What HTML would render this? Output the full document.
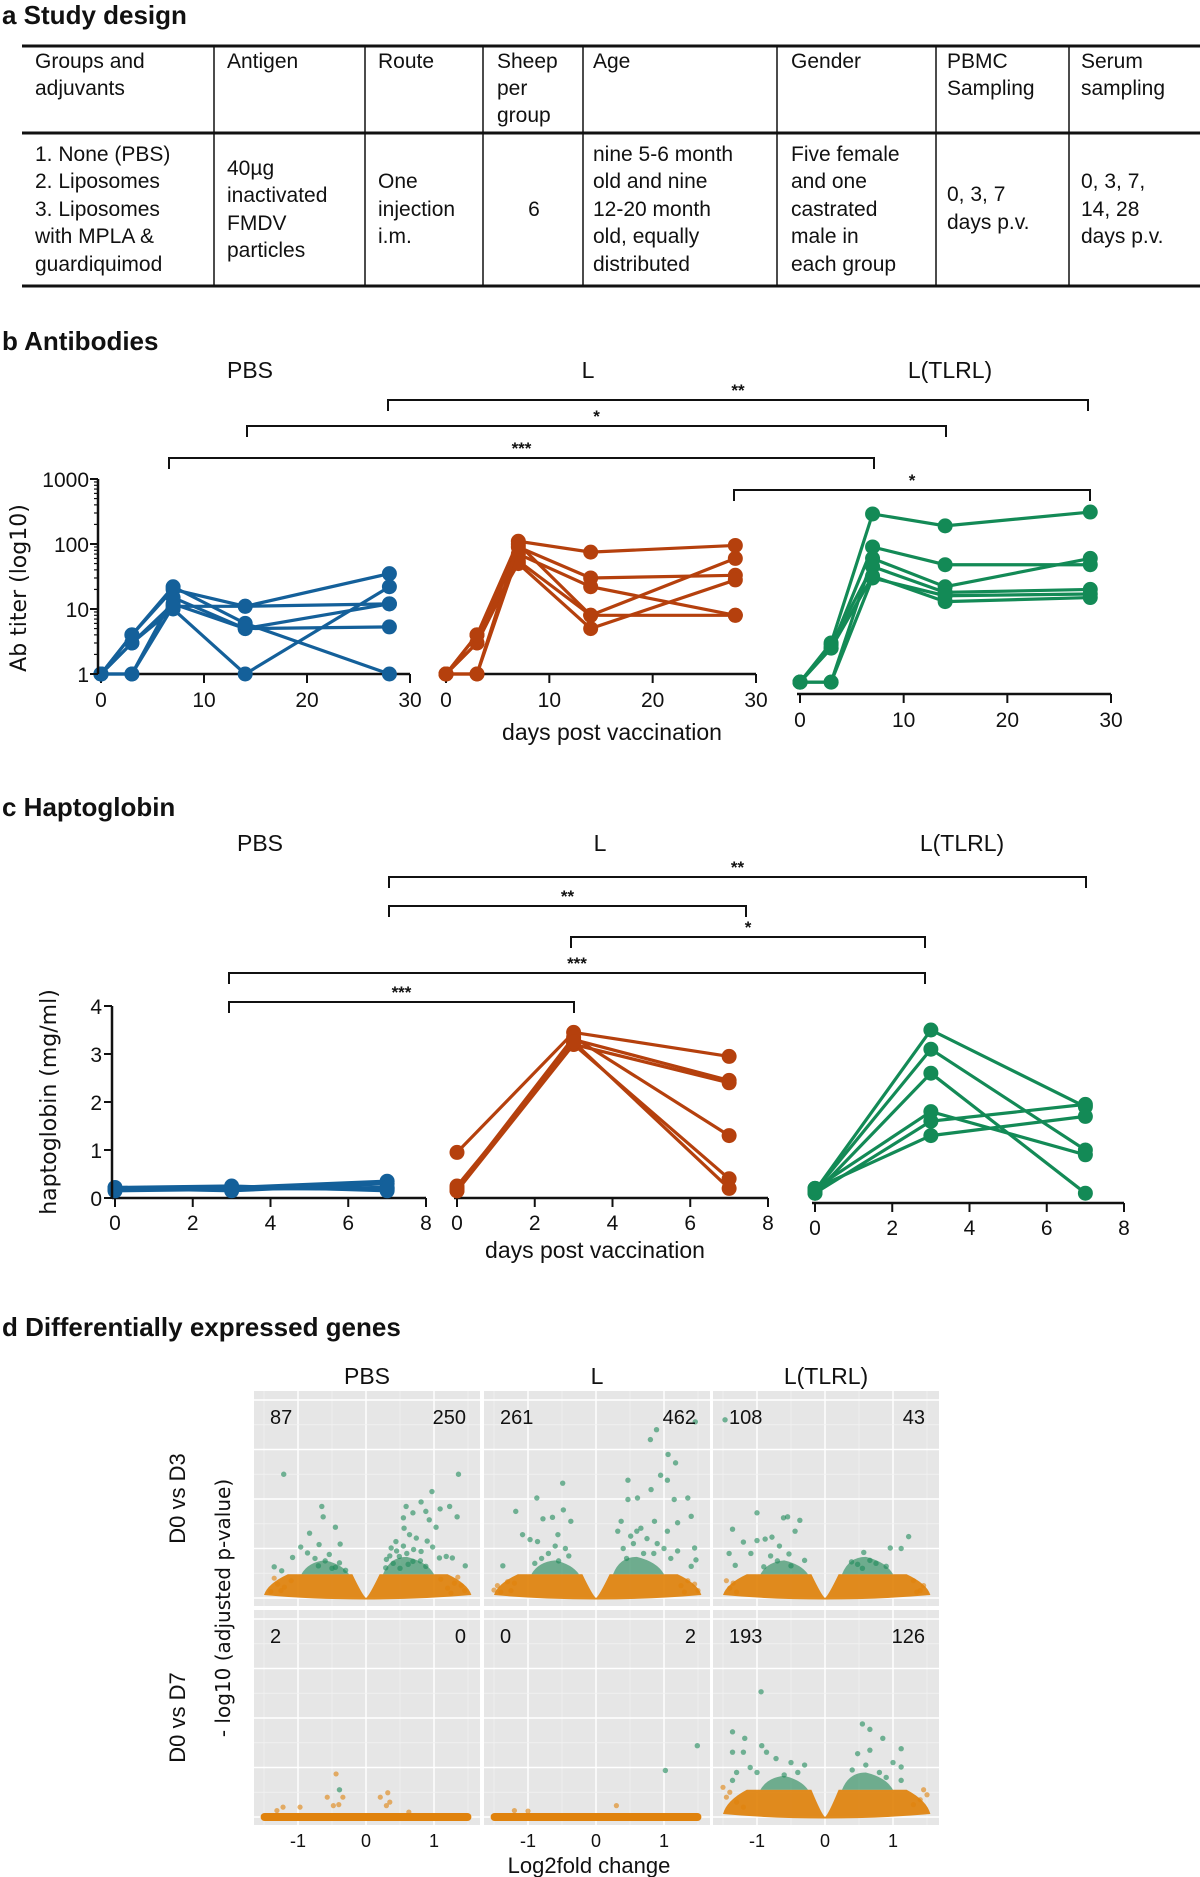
<!DOCTYPE html>
<html><head><meta charset="utf-8">
<style>
html,body{margin:0;padding:0;background:#fff;}
svg{display:block;font-family:"Liberation Sans",Arial,sans-serif;}
</style></head>
<body>
<svg id="fig" width="1200" height="1877" viewBox="0 0 1200 1877" xmlns="http://www.w3.org/2000/svg">
<g font-size="21" fill="#111">
  <text x="2" y="24" font-size="26" font-weight="bold">a Study design</text>
  <g stroke="#111">
    <line x1="22" y1="46" x2="1200" y2="46" stroke-width="3"/>
    <line x1="22" y1="133" x2="1200" y2="133" stroke-width="3"/>
    <line x1="22" y1="286" x2="1200" y2="286" stroke-width="3"/>
    <line x1="214" y1="46" x2="214" y2="286" stroke-width="1.5"/>
    <line x1="365" y1="46" x2="365" y2="286" stroke-width="1.5"/>
    <line x1="483" y1="46" x2="483" y2="286" stroke-width="1.5"/>
    <line x1="583" y1="46" x2="583" y2="286" stroke-width="1.5"/>
    <line x1="777" y1="46" x2="777" y2="286" stroke-width="1.5"/>
    <line x1="936" y1="46" x2="936" y2="286" stroke-width="1.5"/>
    <line x1="1069" y1="46" x2="1069" y2="286" stroke-width="1.5"/>
  </g>
  <g stroke="none">
    <text x="35" y="68">Groups and</text><text x="35" y="95">adjuvants</text>
    <text x="227" y="68">Antigen</text>
    <text x="378" y="68">Route</text>
    <text x="497" y="68">Sheep</text><text x="497" y="95">per</text><text x="497" y="122">group</text>
    <text x="593" y="68">Age</text>
    <text x="791" y="68">Gender</text>
    <text x="947" y="68">PBMC</text><text x="947" y="95">Sampling</text>
    <text x="1081" y="68">Serum</text><text x="1081" y="95">sampling</text>
  </g>
  <g stroke="none">
    <text x="35" y="161">1. None (PBS)</text><text x="35" y="188">2. Liposomes</text><text x="35" y="216">3. Liposomes</text><text x="35" y="243">with MPLA &amp;</text><text x="35" y="271">guardiquimod</text>
    <text x="227" y="175">40µg</text><text x="227" y="202">inactivated</text><text x="227" y="230">FMDV</text><text x="227" y="257">particles</text>
    <text x="378" y="188">One</text><text x="378" y="216">injection</text><text x="378" y="243">i.m.</text>
    <text x="534" y="216" text-anchor="middle">6</text>
    <text x="593" y="161">nine 5-6 month</text><text x="593" y="188">old and nine</text><text x="593" y="216">12-20 month</text><text x="593" y="243">old, equally</text><text x="593" y="271">distributed</text>
    <text x="791" y="161">Five female</text><text x="791" y="188">and one</text><text x="791" y="216">castrated</text><text x="791" y="243">male in</text><text x="791" y="271">each group</text>
    <text x="947" y="201">0, 3, 7</text><text x="947" y="229">days p.v.</text>
    <text x="1081" y="188">0, 3, 7,</text><text x="1081" y="216">14, 28</text><text x="1081" y="243">days p.v.</text>
  </g>
</g>
<g id="secB"></g>
<g id="secC"></g>
<g id="secD"></g>
</svg>
<script>
// ---------- Antibody data (days 0,3,7,14,28) ----------
const abDays = [0, 3, 7, 14, 28];
const abPBS = [[1,4,20,11,35],[1,3,12,5,12],[1,1,15,5,5.3],[1,3,10,1,22],[1,4,22,6,1],[1,1,11,11,12]];
const abL = [[1,4,110,75,95],[1,3,90,30,33],[1,1,70,22,8],[1,3,55,8,60],[1,4,50,5,28],[1,1,100,8,8]];
const abTLRL = [[0.75,3,290,190,310],[0.75,2.5,90,48,48],[0.75,0.75,60,22,60],[0.75,2.8,45,18,20],[0.75,2.5,32,13,15],[0.75,0.75,30,16,17]];
const abXTicks = [0, 10, 20, 30];
const abYTicks = [1, 10, 100, 1000];
const abYLabels = ["1", "10", "100", "1000"];
// ---------- Haptoglobin data (days 0,3,7) ----------
const hpDays = [0, 3, 7];
const hpPBS = [[0.2,0.22,0.35],[0.18,0.2,0.2],[0.22,0.25,0.15],[0.2,0.15,0.3],[0.15,0.18,0.22],[0.2,0.2,0.18]];
const hpL = [[0.95,3.45,2.95],[0.2,3.3,2.45],[0.15,3.2,2.4],[0.2,3.35,1.3],[0.25,3.2,0.4],[0.15,3.25,0.2]];
const hpTLRL = [[0.15,3.5,1.9],[0.15,3.1,1.0],[0.1,2.6,0.1],[0.2,1.8,0.9],[0.1,1.6,1.95],[0.2,1.3,1.7]];
const hpXTicks = [0, 2, 4, 6, 8];
const hpYTicks = [0, 1, 2, 3, 4];
// ---------- Volcano data [log2fc, -log10 p] ----------
const vCounts = [["87","250"],["261","462"],["108","43"],["2","0"],["0","2"],["193","126"]];
const vGreen0 = [[-1.21,25],[1.36,25],[0.97,21.5],[-0.65,18.5],[-0.63,16.4],[-0.45,14.3],[-0.83,13.1],[-0.96,10.3],[-1.08,8.2],[-1.35,6.3],[-1.24,5.5],[-0.69,10.8],[-0.38,10.9],[-0.86,9.1],[-0.54,8.8],[-0.39,7.1],[0.81,19.4],[0.59,18.5],[0.88,17.5],[1.09,18],[1.23,18.5],[1.34,16.4],[0.55,16.2],[0.69,17.2],[0.93,15.8],[1.03,14.3],[0.56,14.1],[0.64,12.8],[0.44,11.4],[0.74,12.1],[0.98,10.3],[1.18,8.4],[1.46,6.5],[1.27,8.1],[1.08,8.1],[0.37,10.1],[0.81,9.4],[0.29,6.1],[0.69,7.4],[0.49,8.4],[0.88,6.4],[-0.5,6],[-0.3,5.6],[-0.7,6.5],[0.4,7],[0.6,9],[0.5,6],[-0.6,7.5],[-0.45,6.2],[-0.75,8],[0.35,8.5],[0.55,10.5],[0.7,9.8],[0.45,9.5],[0.8,7.5],[0.3,7.8],[0.62,6.8],[0.9,11.5]];
const vGreen1 = [[1.46,35.6],[0.89,34],[0.8,32],[1.06,29],[1.17,27.3],[0.95,24.8],[1.05,23.8],[0.47,23.8],[-0.49,23.2],[-0.87,20.2],[-1.18,17.5],[0.47,19.9],[0.61,20.2],[0.81,21.9],[1.15,19.9],[1.35,20.2],[1.4,16.5],[-0.48,17.8],[-0.64,16.3],[-0.78,16],[-0.37,15.5],[0.37,15.5],[0.66,14.1],[0.86,15.5],[1.2,15.2],[1.05,13.5],[0.51,12.5],[-1.08,12.8],[-0.97,11.8],[-0.86,11.4],[-0.56,12.8],[1.45,10.1],[1.47,7.7],[-1.37,6.5],[1.4,6.4],[0.32,13.5],[0.9,11],[0.7,9],[1.1,8],[-0.7,9],[-0.45,10],[-0.8,8],[-0.6,10.5],[-0.4,8.5],[-0.9,7],[0.4,10],[0.55,11],[0.75,12],[1.0,10],[0.45,8],[0.85,9],[1.2,9.5],[0.6,13.5],[-0.55,7.5]];
const vGreen2 = [[-1.47,36],[-1,17.2],[-1.36,13.9],[-0.61,16.2],[-0.55,16.4],[-0.37,15.7],[-0.88,11.9],[-1,11.6],[-0.78,12.3],[-0.44,13.5],[-1.2,11.3],[-1.41,9],[-1.09,9],[-0.67,10.5],[-0.53,8.9],[1.23,12.4],[0.96,10.1],[1.12,10],[0.57,9.2],[0.39,7.3],[0.66,7.6],[0.9,6.4],[0.48,6.8],[-1.32,6.6],[-0.9,6.3],[-0.3,7.6],[-0.7,7.5],[-0.5,6.5],[-0.8,8.5],[0.55,6],[0.75,7]];
const vGreen3 = [[-0.39,5.5]];
const vGreen4 = [[1.49,14.4],[1.02,9.4]];
const vGreen5 = [[-0.94,25.3],[-1.36,17.2],[-1.18,15.9],[-0.93,14.4],[0.55,18.8],[0.66,17.7],[0.85,15.9],[1.12,13.8],[0.66,13.5],[0.48,12.8],[-1.36,13.1],[-1.2,13.1],[-0.86,13.1],[-0.72,11.8],[-0.3,10.5],[1.12,10.1],[-1.36,7.4],[1.12,7.4],[-1.0,9],[-0.6,8.5],[0.8,9],[1.0,11],[-1.1,10],[-0.5,11],[-0.4,9],[0.4,9.5],[0.6,10.5],[0.9,8],[-1.3,9]];
const vOrange0 = [[-1.4,1.3],[-1.3,2.8],[-1.25,1.5],[1.3,3],[1.4,2.5],[1.45,1.5],[-1.1,3.5],[1.1,3.8],[1.2,2],[-1.35,4],[1.35,4.2],[-1.2,2.2],[1.25,1]];
const vOrange1 = [[-1.5,1.6],[-1.4,1.2],[-1.3,3.3],[1.5,1.5],[1.45,2.8],[1.35,3.5],[1.25,2.5],[-1.2,3],[-1.45,2.5],[1.3,1.2],[-1.25,1.5]];
const vOrange2 = [[-1.45,3.5],[-1.4,2],[1.45,2.5],[1.4,1.5],[1.3,3.5],[-1.3,1.2],[-1.35,3],[1.35,1.2]];
const vOrange3 = [[-0.44,8.7],[-0.57,4],[-0.34,4],[0.32,4.9],[0.21,4],[-1.22,2],[-0.97,2],[-0.48,2.3],[0.3,2.3],[0.63,1],[-1.31,1.3],[-0.4,2.5],[0.35,3]];
const vOrange4 = [[0.3,2.3],[-1.2,1.3],[-1,1.2]];
const vOrange5 = [[-1.5,6],[-1.45,4],[-1.3,3],[1.45,5.5],[1.4,3.5],[1.3,2.5],[-1.2,2],[1.5,4.5],[-1.4,5]];
const vThresh = [4.8, 4.8, 4.8, 0, 0, 5.5];
const vXTicks = [-1, 0, 1];

const NS = "http://www.w3.org/2000/svg";
function el(parent, tag, attrs) {
  const e = document.createElementNS(NS, tag);
  for (const k in attrs) e.setAttribute(k, attrs[k]);
  parent.appendChild(e);
  return e;
}
function txt(parent, x, y, s, size, anchor, extra) {
  const t = el(parent, "text", Object.assign({x: x, y: y, "font-size": size, "text-anchor": anchor || "start", fill: "#111"}, extra || {}));
  t.textContent = s;
  return t;
}
function bracket(parent, x1, x2, y, stars, name) {
  const g = el(parent, "g", {});
  
  
  el(g, "path", {d: `M${x1},${y + 11}V${y}H${x2}V${y + 11}`, fill: "none", stroke: "#111", "stroke-width": 2});
  txt(g, (x1 + x2) / 2, y - 4, stars, 17, "middle", {"font-weight": "bold"});
}

// ================= Section B =================
const B = document.getElementById("secB");
txt(B, 2, 350, "b Antibodies", 26, "start", {"font-weight": "bold"});
const abPanels = [
  {x0: 101, x1: 410, axisY: 674, data: abPBS, col: "#14609a", name: "pbs", label: "PBS", lx: 250},
  {x0: 446, x1: 756, axisY: 674, data: abL, col: "#b5400d", name: "l", label: "L", lx: 588},
  {x0: 800, x1: 1111, axisY: 694, data: abTLRL, col: "#138a56", name: "tlrl", label: "L(TLRL)", lx: 950}
];
function abY(v) { return 674 - Math.log10(v) * 65; }
abPanels.forEach((p, i) => {
  const g = el(B, "g", {});
  
  
  const lt = txt(g, p.lx, 378, p.label, 23, "middle");
  
  
  const sx = d => p.x0 + (d / 30) * (p.x1 - p.x0);
  el(g, "line", {x1: p.x0 - 3, y1: p.axisY, x2: p.x1, y2: p.axisY, stroke: "#111", "stroke-width": 2.5});
  abXTicks.forEach(t => {
    el(g, "line", {x1: sx(t), y1: p.axisY, x2: sx(t), y2: p.axisY + 9, stroke: "#111", "stroke-width": 2});
    txt(g, sx(t), p.axisY + 33, String(t), 21, "middle");
  });
  p.data.forEach((s, k) => {
    const line = el(g, "polyline", {points: s.map((v, j) => sx(abDays[j]) + "," + abY(v)).join(" "), fill: "none", stroke: p.col, "stroke-width": 3.2});
    
    
    s.forEach((v, j) => {
      const c = el(g, "circle", {cx: sx(abDays[j]), cy: abY(v), r: 7.5, fill: p.col});
      
      
    });
  });
  if (i === 0) {
    const ax = p.x0 - 3;
    el(g, "line", {x1: ax, y1: abY(1000), x2: ax, y2: p.axisY, stroke: "#111", "stroke-width": 2.5});
    abYTicks.forEach((t, k) => {
      el(g, "line", {x1: ax - 8, y1: abY(t), x2: ax, y2: abY(t), stroke: "#111", "stroke-width": 2});
      txt(g, ax - 9, abY(t) + 8, abYLabels[k], 21, "end");
      if (t < 1000) for (let m = 2; m < 10; m++) el(g, "line", {x1: ax - 4, y1: abY(t * m), x2: ax, y2: abY(t * m), stroke: "#111", "stroke-width": 1.2});
    });
  }
});
const abYT = txt(B, 26, 588, "Ab titer (log10)", 22, "middle", {transform: "rotate(-90 26 588)", "font-family": "DejaVu Sans, sans-serif"});


const abXT = txt(B, 612, 740, "days post vaccination", 23, "middle");


bracket(B, 388, 1088, 400, "**", "sig-bracket-pbs28-tlrl28");
bracket(B, 247, 946, 426, "*", "sig-bracket-pbs14-tlrl14");
bracket(B, 169, 874, 458, "***", "sig-bracket-pbs7-l28");
bracket(B, 734, 1090, 490, "*", "sig-bracket-l28-tlrl28");

// ================= Section C =================
const C = document.getElementById("secC");
txt(C, 2, 816, "c Haptoglobin", 26, "start", {"font-weight": "bold"});
const hpPanels = [
  {x0: 115, x1: 426, axisY: 1198, data: hpPBS, col: "#14609a", name: "pbs", label: "PBS", lx: 260},
  {x0: 457, x1: 768, axisY: 1198, data: hpL, col: "#b5400d", name: "l", label: "L", lx: 600},
  {x0: 815, x1: 1124, axisY: 1203, data: hpTLRL, col: "#138a56", name: "tlrl", label: "L(TLRL)", lx: 962}
];
function hpY(v) { return 1198 - v * 48; }
hpPanels.forEach((p, i) => {
  const g = el(C, "g", {});
  
  
  const lt = txt(g, p.lx, 851, p.label, 23, "middle");
  
  
  const sx = d => p.x0 + (d / 8) * (p.x1 - p.x0);
  el(g, "line", {x1: p.x0 - 3, y1: p.axisY, x2: p.x1, y2: p.axisY, stroke: "#111", "stroke-width": 2.5});
  hpXTicks.forEach(t => {
    el(g, "line", {x1: sx(t), y1: p.axisY, x2: sx(t), y2: p.axisY + 9, stroke: "#111", "stroke-width": 2});
    txt(g, sx(t), p.axisY + 32, String(t), 21, "middle");
  });
  p.data.forEach(s => {
    const line = el(g, "polyline", {points: s.map((v, j) => sx(hpDays[j]) + "," + hpY(v)).join(" "), fill: "none", stroke: p.col, "stroke-width": 3.2});
    
    
    s.forEach((v, j) => {
      const c = el(g, "circle", {cx: sx(hpDays[j]), cy: hpY(v), r: 7.5, fill: p.col});
      
      
    });
  });
  if (i === 0) {
    const ax = p.x0 - 3;
    el(g, "line", {x1: ax, y1: hpY(4), x2: ax, y2: p.axisY, stroke: "#111", "stroke-width": 2.5});
    hpYTicks.forEach(t => {
      el(g, "line", {x1: ax - 8, y1: hpY(t), x2: ax, y2: hpY(t), stroke: "#111", "stroke-width": 2});
      txt(g, ax - 10, hpY(t) + 8, String(t), 21, "end");
    });
  }
});
const hpYT = txt(C, 56, 1102, "haptoglobin (mg/ml)", 22, "middle", {transform: "rotate(-90 56 1102)", "font-family": "DejaVu Sans, sans-serif"});


const hpXT = txt(C, 595, 1258, "days post vaccination", 23, "middle");


bracket(C, 389, 1086, 877, "**", "sig-bracket-l0-tlrl7");
bracket(C, 389, 746, 906, "**", "sig-bracket-l0-l7");
bracket(C, 571, 925, 937, "*", "sig-bracket-l3-tlrl3");
bracket(C, 229, 925, 973, "***", "sig-bracket-pbs3-tlrl3");
bracket(C, 229, 574, 1002, "***", "sig-bracket-pbs3-l3");

// ================= Section D =================
const D = document.getElementById("secD");
txt(D, 2, 1336, "d Differentially expressed genes", 26, "start", {"font-weight": "bold"});
const colX = [254, 484, 713];
const rowY = [1391, 1610];
const pw = 226, ph = 215;
const greens = [vGreen0, vGreen1, vGreen2, vGreen3, vGreen4, vGreen5];
const oranges = [vOrange0, vOrange1, vOrange2, vOrange3, vOrange4, vOrange5];
["PBS", "L", "L(TLRL)"].forEach((s, i) => {
  const t = txt(D, colX[i] + pw / 2, 1384, s, 23, "middle");
  
  
});
["D0 vs D3", "D0 vs D7"].forEach((s, r) => {
  const cy = rowY[r] + ph / 2;
  const t = txt(D, 185, cy, s, 22, "middle", {transform: `rotate(-90 185 ${cy})`});
  
  
});
for (let r = 0; r < 2; r++) for (let c = 0; c < 3; c++) {
  const idx = r * 3 + c;
  const px = colX[c], py = rowY[r];
  const g = el(D, "g", {});
  
  
  el(g, "rect", {x: px, y: py, width: pw, height: ph, fill: "#e6e6e6"});
  const zx = px + 112, base = py + ph - 8;
  const sx = v => zx + v * 68;
  const sy = v => base - v * 4.95;
  [-1.5, -0.5, 0.5, 1.5].forEach(v => el(g, "line", {x1: sx(v), y1: py, x2: sx(v), y2: py + ph, stroke: "#f2f2f2", "stroke-width": 0.8}));
  vXTicks.forEach(v => el(g, "line", {x1: sx(v), y1: py, x2: sx(v), y2: py + ph, stroke: "#fff", "stroke-width": 1.4}));
  [5, 15, 25, 35].forEach(v => { if (sy(v) > py) el(g, "line", {x1: px, y1: sy(v), x2: px + pw, y2: sy(v), stroke: "#f2f2f2", "stroke-width": 0.8}); });
  [0, 10, 20, 30, 40].forEach(v => { if (sy(v) > py) el(g, "line", {x1: px, y1: sy(v), x2: px + pw, y2: sy(v), stroke: "#fff", "stroke-width": 1.4}); });
  const th = vThresh[idx];
  if (th > 0) {
    const band = el(g, "path", {d: `M${sx(-1.5)},${sy(0.6)} Q${sx(-1.45)},${sy(th * 0.6)} ${sx(-1.15)},${sy(th)} L${sx(-0.2)},${sy(th)} Q${sx(-0.05)},${sy(0.5)} ${sx(0)},${sy(0)} Q${sx(0.05)},${sy(0.5)} ${sx(0.2)},${sy(th)} L${sx(1.2)},${sy(th)} Q${sx(1.5)},${sy(th * 0.6)} ${sx(1.55)},${sy(0.6)} Q${sx(0.8)},${sy(-0.3)} ${sx(0)},${sy(-0.3)} Q${sx(-0.8)},${sy(-0.3)} ${sx(-1.5)},${sy(0.6)} Z`, fill: "#e0820c", "fill-opacity": 0.92});
    
    
    const gl = el(g, "path", {d: `M${sx(-0.95)},${sy(th)} Q${sx(-0.85)},${sy(th + 2.5)} ${sx(-0.6)},${sy(th + 2.8)} Q${sx(-0.35)},${sy(th + 2)} ${sx(-0.25)},${sy(th)} Z M${sx(0.25)},${sy(th)} Q${sx(0.35)},${sy(th + 3.5)} ${sx(0.6)},${sy(th + 3.5)} Q${sx(0.9)},${sy(th + 2.5)} ${sx(1.0)},${sy(th)} Z`, fill: "#1e8553", "fill-opacity": 0.6});
    
    
  } else {
    const flat = el(g, "rect", {x: sx(-1.55), y: base - 4, width: sx(1.55) - sx(-1.55), height: 8, rx: 4, fill: "#e0820c"});
    
    
  }
  oranges[idx].forEach(p => {
    const d = el(g, "circle", {cx: sx(p[0]), cy: sy(p[1]), r: 2.6, fill: "#e0820c", "fill-opacity": 0.6});
    
    
  });
  greens[idx].forEach(p => {
    const d = el(g, "circle", {cx: sx(p[0]), cy: sy(p[1]), r: 2.7, fill: "#1e8a5a", "fill-opacity": 0.6});
    
    
  });
  const c1 = txt(g, px + 16, py + 33, vCounts[idx][0], 20, "start");
  
  
  const c2 = txt(g, px + pw - 14, py + 33, vCounts[idx][1], 20, "end");
  
  
  if (r === 1) vXTicks.forEach(v => txt(D, sx(v), 1847, String(v), 18, "middle"));
}
const vYT = txt(D, 230, 1608, "- log10 (adjusted p-value)", 20, "middle", {transform: "rotate(-90 230 1608)", "font-family": "DejaVu Sans, sans-serif"});


const vXT = txt(D, 589, 1873, "Log2fold change", 22, "middle");


</script>
</body></html>
